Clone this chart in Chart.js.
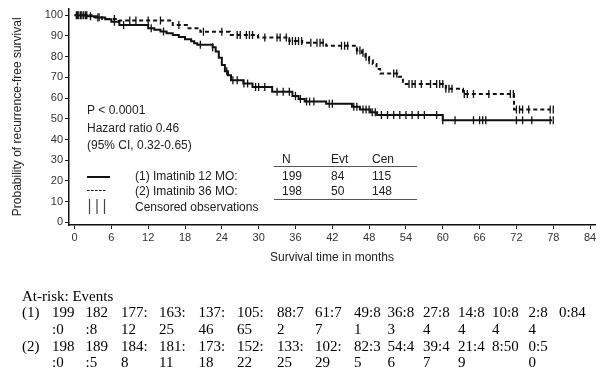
<!DOCTYPE html>
<html>
<head>
<meta charset="utf-8">
<script src="https://cdn.jsdelivr.net/npm/chart.js@4/dist/chart.umd.min.js"></script>
<style>
  html, body { margin: 0; padding: 0; background: #fff; }
  #wrap { width: 604px; height: 375px; position: relative; }
</style>
</head>
<body>
<div id="wrap"><canvas id="c" width="604" height="375"></canvas></div>
<script>
// ---------- DATA ----------
const xTicks = [0, 6, 12, 18, 24, 30, 36, 42, 48, 54, 60, 66, 72, 78, 84];
const yTicks = [0, 10, 20, 30, 40, 50, 60, 70, 80, 90, 100];

// Arm (1) Imatinib 12 MO: event times (months) and survival (%) after each step
const arm1Times = [0, 2, 3.5, 5, 6, 7.3, 12, 13, 14, 15, 16, 17, 18, 19, 19.5, 20, 22.5, 23, 23.5, 24, 24.5, 25, 25.5, 27.5, 29, 32.2, 35.5, 36.5, 37.5, 41, 45.2, 46.5, 48.2, 49.3, 60, 77.8];
const arm1Surv  = [100, 99.5, 98.9, 98, 96.9, 95.3, 93.7, 93, 92.2, 91.3, 90.5, 89.5, 88.4, 87.4, 86.5, 85.8, 84.5, 82.5, 79.5, 76, 73, 71, 68.6, 67, 65.4, 63, 61, 59.5, 58.3, 57.2, 55.8, 54.5, 53.2, 51.8, 49.3, 49.3];
const arm1Censor = [0.3, 0.7, 1.2, 1.8, 2.6, 3.8, 6.5, 8, 12.5, 14.5, 20.5, 22.5, 24.8, 25.8, 26.5, 27.6, 28.2, 29.5, 30, 31, 33, 34, 35, 36, 36.8, 37.8, 38.3, 39, 41.5, 42, 45.5, 46, 47, 47.5, 48, 48.5, 49, 50, 51, 52, 53, 54, 55, 56, 57, 59, 60, 62, 65, 66, 66.5, 67, 72, 73, 74.5, 77.5, 78];

// Arm (2) Imatinib 36 MO
const arm2Times = [0, 3, 4.5, 7.2, 16, 18.3, 20.5, 25.3, 29.9, 35, 37.1, 41, 46, 46.8, 47.4, 48, 48.6, 49.2, 49.8, 52.8, 53.5, 60.5, 63.3, 71.6, 77.6];
const arm2Surv  = [100, 99, 98.2, 97.4, 95.3, 93.7, 92, 90.5, 89.3, 87.6, 86.7, 85.2, 83, 81.9, 80, 78.3, 76.5, 74, 71.8, 70.3, 66.8, 64.5, 62, 54.5, 54.5];
const arm2Censor = [0.5, 1, 1.5, 2, 4, 6.5, 9, 10, 12, 14, 17, 21, 24, 26.5, 27, 28, 28.5, 29, 31, 33, 33.5, 34.5, 35, 35.5, 36, 36.5, 37, 38.5, 39.5, 40, 40.5, 43.5, 44, 44.5, 46, 46.5, 47, 47.5, 48, 52, 52.5, 54.5, 55, 55.5, 56.5, 58, 59, 59.5, 60, 60.5, 61, 61.5, 63.5, 64, 65, 67.5, 71, 71.5, 72, 72.5, 73, 74, 77.5, 78];

const statsLines = ['P < 0.0001', 'Hazard ratio 0.46', '(95% CI, 0.32-0.65)'];
const groupLabels = ['(1) Imatinib 12 MO:', '(2) Imatinib 36 MO:'];
const censorLabel = 'Censored observations';
const tableHeader = ['N', 'Evt', 'Cen'];
const tableN = ['199', '198'];
const tableEvt = ['84', '50'];
const tableCen = ['115', '148'];

const atRiskTitle = 'At-risk: Events';
const atRiskGroups = ['(1)', '(2)'];
const atRisk1a = ['199', '182', '177:', '163:', '137:', '105:', '88:7', '61:7', '49:8', '36:8', '27:8', '14:8', '10:8', '2:8', '0:84'];
const atRisk1b = [':0', ':8', '12', '25', '46', '65', '2', '7', '1', '3', '4', '4', '4', '4', ''];
const atRisk2a = ['198', '189', '184:', '181:', '173:', '152:', '133:', '102:', '82:3', '54:4', '39:4', '21:4', '8:50', '0:5', ''];
const atRisk2b = [':0', ':5', '8', '11', '18', '22', '25', '29', '5', '6', '7', '9', '', '0', ''];

// ---------- helpers ----------
function survAt(times, surv, t) {
  let v = surv[0];
  for (let i = 0; i < times.length; i++) { if (times[i] <= t) v = surv[i]; else break; }
  return v;
}
const toPts = (ts, ss) => ts.map((t, i) => ({ x: t, y: ss[i] }));
const censorPts = (cs, ts, ss) => cs.map(t => ({ x: t, y: survAt(ts, ss, t) }));

// ---------- annotation plugin ----------
const annot = {
  id: 'annot',
  afterDraw(chart) {
    const ctx = chart.ctx;
    ctx.save();
    const sans = '12px "Liberation Sans", Arial, sans-serif';
    ctx.fillStyle = '#222';
    ctx.font = sans;
    ctx.textBaseline = 'middle';
    ctx.textAlign = 'left';
    const statY = [111, 128.5, 146];
    statsLines.forEach((s, i) => ctx.fillText(s, 87, statY[i]));
    // legend
    const rowY = [176.5, 191.5];
    groupLabels.forEach((s, i) => ctx.fillText(s, 135, rowY[i]));
    ctx.fillText(censorLabel, 135, 207.5);
    ctx.strokeStyle = '#111';
    ctx.lineWidth = 2;
    ctx.beginPath(); ctx.moveTo(87, 177); ctx.lineTo(110, 177); ctx.stroke();
    ctx.lineWidth = 1.2;
    ctx.setLineDash([2.5, 1.5]);
    ctx.beginPath(); ctx.moveTo(87, 190.5); ctx.lineTo(107, 190.5); ctx.stroke();
    ctx.setLineDash([]);
    ctx.strokeStyle = '#444';
    ctx.lineWidth = 1.2;
    [89.5, 97, 104.5].forEach(x => { ctx.beginPath(); ctx.moveTo(x, 199); ctx.lineTo(x, 214); ctx.stroke(); });
    // N / Evt / Cen table
    const colX = [282, 331, 372];
    ctx.fillStyle = '#222';
    tableHeader.forEach((s, i) => ctx.fillText(s, colX[i], 159.5));
    [tableN, tableEvt, tableCen].forEach((col, i) => col.forEach((s, r) => ctx.fillText(s, colX[i], rowY[r])));
    ctx.strokeStyle = '#555';
    ctx.lineWidth = 1;
    ctx.beginPath(); ctx.moveTo(274, 166.5); ctx.lineTo(417, 166.5); ctx.stroke();
    ctx.beginPath(); ctx.moveTo(274, 199.5); ctx.lineTo(417, 199.5); ctx.stroke();
    // At-risk table
    ctx.font = '15px "Liberation Serif", "Times New Roman", serif';
    ctx.fillStyle = '#000';
    ctx.fillText(atRiskTitle, 22, 297);
    const cx = [52, 85.5, 121, 159, 198.5, 237, 277, 315, 354, 387.5, 423, 458, 492, 528.5, 559];
    const ry = [313.5, 330, 347, 363.5];
    ctx.fillText(atRiskGroups[0], 22, ry[0]);
    ctx.fillText(atRiskGroups[1], 22, ry[2]);
    [atRisk1a, atRisk1b, atRisk2a, atRisk2b].forEach((row, r) => row.forEach((s, i) => { if (s) ctx.fillText(s, cx[i], ry[r]); }));
    ctx.restore();
  }
};

const tickFont = { family: '"Liberation Sans", Arial, sans-serif', size: 11 };

new Chart(document.getElementById('c'), {
  type: 'line',
  data: {
    datasets: [
      { data: toPts(arm1Times, arm1Surv), stepped: true, borderColor: '#111', borderWidth: 2, pointRadius: 0, fill: false },
      { data: toPts(arm2Times, arm2Surv), stepped: true, borderColor: '#111', borderWidth: 2, borderDash: [4, 3], pointRadius: 0, fill: false },
      { type: 'scatter', data: censorPts(arm1Censor, arm1Times, arm1Surv), pointStyle: 'line', rotation: 90, radius: 4, borderColor: '#111', borderWidth: 1.3, showLine: false },
      { type: 'scatter', data: censorPts(arm2Censor, arm2Times, arm2Surv), pointStyle: 'line', rotation: 90, radius: 4, borderColor: '#111', borderWidth: 1.3, showLine: false }
    ]
  },
  options: {
    responsive: false,
    animation: false,
    events: [],
    layout: { padding: { top: 5, right: 9, bottom: 110, left: 0 } },
    plugins: { legend: { display: false }, tooltip: { enabled: false } },
    scales: {
      x: {
        type: 'linear', min: -0.9, max: 84.8,
        afterBuildTicks: s => { s.ticks = xTicks.map(v => ({ value: v })); },
        afterFit: s => { s.height = 40; },
        grid: { display: true, drawOnChartArea: false, drawTicks: true, tickLength: 4, color: '#222', lineWidth: 1 },
        border: { display: true, color: '#111', width: 1.5 },
        ticks: { font: tickFont, color: '#333', padding: 2, maxRotation: 0, autoSkip: false },
        title: { display: true, text: 'Survival time in months', font: { family: '"Liberation Sans", Arial, sans-serif', size: 12 }, color: '#222', padding: { top: 0, bottom: 0 } }
      },
      y: {
        type: 'linear', min: -1.3, max: 103.2,
        afterBuildTicks: s => { s.ticks = yTicks.map(v => ({ value: v })); },
        afterFit: s => { s.width = 69; },
        grid: { display: true, drawOnChartArea: false, drawTicks: true, tickLength: 4, color: '#222', lineWidth: 1 },
        border: { display: true, color: '#111', width: 1.5 },
        ticks: { font: tickFont, color: '#333', padding: 2, autoSkip: false },
        title: { display: true, text: 'Probability of recurrence-free survival', font: { family: '"Liberation Sans", Arial, sans-serif', size: 12 }, color: '#222', padding: { top: 10, bottom: 0 } }
      }
    }
  },
  plugins: [annot]
});
</script>
</body>
</html>
